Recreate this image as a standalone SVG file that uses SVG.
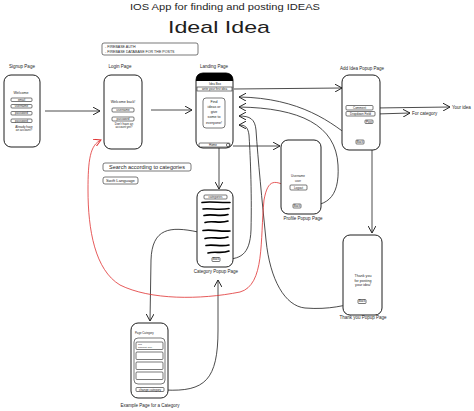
<svg xmlns="http://www.w3.org/2000/svg" width="474" height="411" viewBox="0 0 474 411">
<defs>
<style>
text{font-family:"Liberation Sans",Arial,sans-serif;fill:#1e1e1e}
.frame{fill:#fff;stroke:#1e1e1e;stroke-width:1}
.box{fill:none;stroke:#1e1e1e;stroke-width:0.6}
.lbl{font-size:4.5px;text-anchor:middle}
.tiny{font-size:3px;text-anchor:middle}
.sm{font-size:3.6px;text-anchor:middle}
.conn{fill:none;stroke:#1e1e1e;stroke-width:0.8}
.red{fill:none;stroke:#e03131;stroke-width:0.8}
.wave{fill:none;stroke:#000;stroke-width:1.6;stroke-linecap:round}
</style>
<marker id="ah" viewBox="0 0 10 10" refX="9" refY="5" markerWidth="8" markerHeight="8" markerUnits="userSpaceOnUse" orient="auto">
<path d="M0,0 L9,5 L0,10" fill="none" stroke="#1e1e1e" stroke-width="1.2"/>
</marker>
<marker id="ahr" viewBox="0 0 10 10" refX="9" refY="5" markerWidth="8" markerHeight="8" markerUnits="userSpaceOnUse" orient="auto">
<path d="M0,0 L9,5 L0,10" fill="none" stroke="#e03131" stroke-width="1.2"/>
</marker>
</defs>
<rect width="474" height="411" fill="#fff"/>

<g id="title">
<text x="225" y="10" font-size="9" text-anchor="middle" textLength="190" lengthAdjust="spacingAndGlyphs">IOS App for finding and posting IDEAS</text>
<text x="219" y="33" font-size="17" text-anchor="middle" textLength="102" lengthAdjust="spacingAndGlyphs">Ideal Idea</text>
</g>

<g id="notes">
<rect x="102" y="43" width="96" height="12" rx="2" class="box"/>
<text x="105" y="48" font-size="3.6">- FIREBASE AUTH</text>
<text x="105" y="53" font-size="3.6">- FIREBASE DATABASE FOR THE POSTS</text>
</g>

<g id="connectors">
<path class="conn" d="M45,111 L100,111" marker-end="url(#ah)"/>
<path class="conn" d="M151,110 L192,110" marker-end="url(#ah)"/>
<path class="conn" d="M234,89 L342,88" marker-end="url(#ah)"/>
<path class="conn" d="M233,146 L280,146" marker-end="url(#ah)"/>
<path class="conn" d="M219,148 L219,189" marker-end="url(#ah)"/>
<path class="conn" d="M356,142 C332,122 300,98 239,97" marker-end="url(#ah)"/>
<path class="conn" d="M301,206 C325,207 340,200 338,165 C336,125 300,108 239,107" marker-end="url(#ah)"/>
<path class="conn" d="M360,302 C345,305 330,310 305,308 C285,306 270,280 266,240 C262,200 258,160 256,130 C255,119 250,116 239,116" marker-end="url(#ah)"/>
<path class="conn" d="M222,259 C240,260 250,255 251,230 C252,190 250,150 249,135 C248,127 245,125 239,125" marker-end="url(#ah)"/>
<path class="conn" d="M372,124 L372,233" marker-end="url(#ah)"/>
<path class="conn" d="M375,108 L450,107" marker-end="url(#ah)"/>
<path class="conn" d="M376,114 L410,113" marker-end="url(#ah)"/>
<path class="conn" d="M198,232 C170,226 152,228 151,260 L150,321" marker-end="url(#ah)"/>
<path class="conn" d="M165,390 C205,392 218,380 218,330 L218,280" marker-end="url(#ah)"/>
<path class="red" d="M290,188 C275,180 268,178 264,200 C260,240 265,285 240,292 C200,300 150,300 120,285 C95,270 88,230 88,190 C88,160 90,145 101,140" marker-end="url(#ahr)"/>
<text x="452" y="108.5" font-size="4.5">Your idea</text>
<text x="412" y="115" font-size="4.5">For category</text>
</g>

<g id="signup">
<text x="22" y="68" class="lbl">Signup Page</text>
<rect x="4" y="75" width="36" height="72" rx="7" class="frame"/>
<text x="21" y="94" class="sm">Welcome</text>
<rect x="11" y="98" width="21" height="3.5" rx="1" class="box"/>
<text x="21.5" y="100.8" class="tiny">email</text>
<rect x="11" y="104.5" width="21" height="3.5" rx="1" class="box"/>
<text x="21.5" y="107.3" class="tiny">username</text>
<rect x="11" y="111.5" width="21" height="3.5" rx="1" class="box"/>
<text x="21.5" y="114.3" class="tiny">password</text>
<rect x="11" y="119" width="21" height="3.5" rx="1" class="box"/>
<text x="21.5" y="121.8" class="tiny">password</text>
<text x="24" y="128" class="tiny" font-size="2.2">Already have</text>
<text x="24" y="131" class="tiny" font-size="2.2">an account?</text>
</g>

<g id="login">
<text x="120" y="68" class="lbl">Login Page</text>
<rect x="104" y="75" width="38" height="74" rx="7" class="frame"/>
<text x="123" y="103" class="sm">Welcome back!</text>
<rect x="112" y="108" width="22" height="4" rx="1" class="box"/>
<text x="123" y="111" class="tiny">username</text>
<rect x="112" y="117" width="22" height="4" rx="1" class="box"/>
<text x="123" y="120" class="tiny">password</text>
<text x="124" y="124.5" class="tiny" font-size="2.2">Don't have an</text>
<text x="124" y="127.5" class="tiny" font-size="2.2">account yet?</text>
</g>

<g id="landing">
<text x="214" y="68" class="lbl">Landing Page</text>
<rect x="196" y="73" width="37" height="75" rx="7" class="frame"/>
<path d="M196,81 L196,80 Q196,73 203,73 L226,73 Q233,73 233,80 L233,81 Z" fill="#000"/>
<text x="215" y="84.5" class="tiny" font-size="2.2">Idea Box</text>
<rect x="197" y="87" width="35" height="4" class="box"/>
<text x="214.5" y="90" class="tiny">write your first idea</text>
<rect x="203" y="98" width="22" height="30" rx="3" class="box"/>
<text x="214" y="103" class="sm">Find</text>
<text x="214" y="108" class="sm">ideas or</text>
<text x="214" y="113" class="sm">give</text>
<text x="214" y="118" class="sm">some to</text>
<text x="214" y="123.5" class="sm">everyone!</text>
<rect x="199" y="143" width="31" height="4" rx="1" class="box"/>
<text x="213" y="146" class="tiny" font-size="2.2">Home</text>
<circle cx="228" cy="145" r="1.6" class="box"/>
</g>

<g id="add-idea">
<text x="362" y="70" class="lbl">Add Idea Popup Page</text>
<rect x="342" y="75" width="38" height="75" rx="7" class="frame"/>
<rect x="346" y="105.5" width="27" height="4.5" rx="1" class="box"/>
<text x="359.5" y="109" class="tiny">Comment</text>
<rect x="346" y="111.5" width="29" height="4.5" rx="1" class="box"/>
<text x="360.5" y="115" class="tiny">Dropdown Field</text>
<rect x="365" y="120" width="8" height="3.5" rx="0.8" class="box"/>
<text x="369" y="122.6" class="tiny" font-size="2">Post</text>
<rect x="356" y="140" width="8" height="4" rx="0.8" class="box"/>
<text x="360" y="142.8" class="tiny" font-size="2">Back</text>
</g>

<g id="profile">
<rect x="281" y="140" width="40" height="74" rx="7" class="frame"/>
<text x="298" y="177" class="tiny">Username</text>
<text x="298" y="181.5" class="tiny">user</text>
<rect x="290" y="185" width="17" height="5" rx="1" class="box"/>
<text x="298.5" y="188.6" class="tiny">Logout</text>
<rect x="293" y="204" width="8" height="4" rx="0.8" class="box"/>
<text x="297" y="206.8" class="tiny" font-size="2">Back</text>
<text x="303" y="220" class="lbl">Profile Popup Page</text>
</g>

<g id="search-note">
<rect x="103" y="163" width="88" height="8" rx="2" class="box"/>
<text x="147" y="169" font-size="5.5" text-anchor="middle">Search according to categories</text>
<rect x="103" y="177" width="35" height="7" rx="2" class="box"/>
<text x="120.5" y="182" font-size="4.2" text-anchor="middle">Swift Language</text>
</g>

<g id="category">
<rect x="197" y="190" width="36" height="77" rx="7" class="frame"/>
<rect x="204" y="195" width="23" height="4" rx="1" class="box"/>
<text x="215.5" y="198" class="tiny">categories</text>
<path class="wave" d="M202,202.5 C210,201 220,203 230,202.5"/>
<path class="wave" d="M203,209 C210,208 219,210.5 229,208.5"/>
<path class="wave" d="M204,215.5 C212,213.5 220,217 228,214.5"/>
<path class="wave" d="M205,222.5 C212,220 220,224 228,221"/>
<path class="wave" d="M203,230.5 C212,229 220,232 230,231"/>
<path class="wave" d="M205,238.5 C212,236 220,240 228,237"/>
<path class="wave" d="M206,245.5 C213,244 221,247 229,245"/>
<path class="wave" d="M208,253 C215,251 222,254 229,251"/>
<rect x="212" y="257.5" width="8" height="4" rx="0.8" class="box"/>
<text x="216" y="260.3" class="tiny" font-size="2">Back</text>
<text x="216" y="273" class="lbl">Category Popup Page</text>
</g>

<g id="thank-you">
<rect x="343" y="235" width="39" height="80" rx="7" class="frame"/>
<text x="363" y="277" class="sm">Thank you</text>
<text x="363" y="281.5" class="sm">for posting</text>
<text x="363" y="286" class="sm">your idea!</text>
<rect x="358" y="299.5" width="8" height="4" rx="0.8" class="box"/>
<text x="362" y="302.3" class="tiny" font-size="2">Back</text>
<text x="363" y="319" class="lbl">Thank you Popup Page</text>
</g>

<g id="example">
<rect x="131" y="323" width="37" height="75" rx="7" class="frame"/>
<text x="135" y="334" font-size="2.8">Page Category</text>
<rect x="134" y="338" width="31" height="46" rx="4" class="box"/>
<rect x="136" y="342" width="27" height="7.5" rx="1" class="box"/>
<text x="138" y="345" font-size="2">Idea</text>
<text x="138" y="348" font-size="2">Comment: Idea...</text>
<rect x="136" y="352" width="27" height="7.5" rx="1" class="box"/>
<rect x="136" y="362" width="27" height="7.5" rx="1" class="box"/>
<rect x="136" y="372" width="27" height="7.5" rx="1" class="box"/>
<rect x="136" y="387.5" width="28" height="4" rx="1" class="box"/>
<text x="150" y="390.5" class="tiny" font-size="2.4">change category</text>
<text x="150" y="407" class="lbl">Example Page for a Category</text>
</g>
</svg>
